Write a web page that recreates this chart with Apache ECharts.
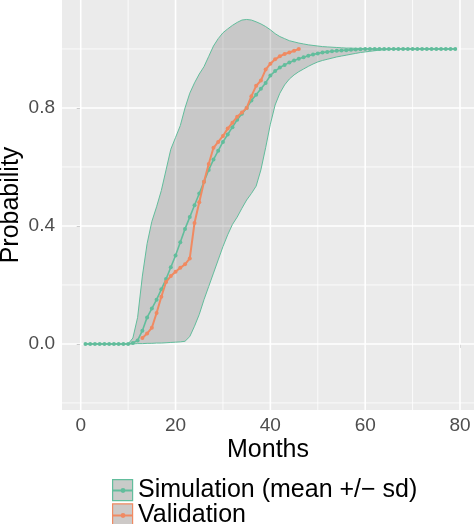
<!DOCTYPE html>
<html>
<head>
<meta charset="utf-8">
<script src="https://cdn.jsdelivr.net/npm/echarts@6/dist/echarts.min.js"></script>
<style>
  html, body { margin: 0; padding: 0; background: #fff; }
  #chart { width: 474px; height: 524px; }
</style>
</head>
<body>
<div id="chart"></div>
<script>
// months of the simulation
const months = [1, 2, 3, 4, 5, 6, 7, 8, 9, 10, 11, 12, 13, 14, 15, 16, 17, 18, 19, 20,
  21, 22, 23, 24, 25, 26, 27, 28, 29, 30, 31, 32, 33, 34, 35, 36, 37, 38, 39, 40,
  41, 42, 43, 44, 45, 46, 47, 48, 49, 50, 51, 52, 53, 54, 55, 56, 57, 58, 59, 60,
  61, 62, 63, 64, 65, 66, 67, 68, 69, 70, 71, 72, 73, 74, 75, 76, 77, 78, 79]
// simulation mean
const simMean = [0, 0, 0, 0, 0, 0, 0, 0, 0, 0, 0.003, 0.012, 0.045, 0.09, 0.12, 0.15, 0.185, 0.22, 0.26, 0.30,
  0.345, 0.39, 0.43, 0.47, 0.51, 0.55, 0.59, 0.625, 0.655, 0.685, 0.71, 0.735, 0.76, 0.78, 0.80, 0.825, 0.845, 0.865, 0.885, 0.91,
  0.925, 0.937, 0.946, 0.954, 0.961, 0.967, 0.972, 0.977, 0.981, 0.985, 0.988, 0.99, 0.992, 0.994, 0.995, 0.996, 0.997, 0.998, 0.999, 1,
  1, 1, 1, 1, 1, 1, 1, 1, 1, 1, 1, 1, 1, 1, 1, 1, 1, 1, 1]
// mean + sd
const simUpper = [0, 0, 0, 0, 0, 0, 0, 0, 0, 0, 0.02, 0.09, 0.23, 0.34, 0.415, 0.465, 0.52, 0.59, 0.66, 0.70,
  0.74, 0.80, 0.85, 0.885, 0.915, 0.94, 0.975, 1.01, 1.035, 1.055, 1.068, 1.08, 1.09, 1.098, 1.10, 1.098, 1.092, 1.085, 1.076, 1.065,
  1.052, 1.042, 1.035, 1.028, 1.024, 1.02, 1.017, 1.014, 1.012, 1.01, 1.008, 1.007, 1.006, 1.005, 1.004, 1.003, 1.003, 1.002, 1.002, 1.001,
  1.001, 1, 1, 1, 1, 1, 1, 1, 1, 1, 1, 1, 1, 1, 1, 1, 1, 1, 1]
// mean - sd
const simLower = [0, 0, 0, 0, 0, 0, 0, 0, 0, 0, 0, 0.001, 0.001, 0.002, 0.002, 0.003, 0.003, 0.004, 0.005, 0.006,
  0.007, 0.009, 0.025, 0.06, 0.10, 0.15, 0.195, 0.24, 0.285, 0.33, 0.37, 0.405, 0.43, 0.46, 0.488, 0.51, 0.535, 0.59, 0.665, 0.745,
  0.81, 0.85, 0.878, 0.898, 0.912, 0.923, 0.932, 0.941, 0.949, 0.956, 0.961, 0.965, 0.969, 0.973, 0.976, 0.979, 0.982, 0.985, 0.988, 0.99,
  0.992, 0.994, 0.996, 0.997, 0.998, 0.999, 1, 1, 1, 1, 1, 1, 1, 1, 1, 1, 1, 1, 1]
// validation data
const valMonths = [13, 14, 15, 16, 17, 18, 19, 20, 21, 22, 23, 24, 25, 26, 27, 28, 29, 30,
  31, 32, 33, 34, 35, 36, 37, 38, 39, 40, 41, 42, 43, 44, 45, 46]
const valProb = [0.02, 0.035, 0.055, 0.105, 0.16, 0.21, 0.23, 0.245, 0.258, 0.27, 0.29, 0.41, 0.48, 0.55, 0.61, 0.665, 0.685, 0.705,
  0.73, 0.75, 0.77, 0.785, 0.80, 0.84, 0.875, 0.893, 0.93, 0.95, 0.965, 0.975, 0.983, 0.988, 0.994, 1.0]
// ticks and grid lines
const xTicks = [0, 20, 40, 60, 80]
const xMinor = [10, 30, 50, 70]
const yTicks = [0, 0.4, 0.8]
const yMinor = [-0.2, 0.2, 0.6, 1.0]

const simName = 'Simulation (mean +/\u2212 sd)'
const valName = 'Validation'
const green = '#62bd9c'
const orange = '#f08a62'
const font = 'Liberation Sans, Arial, sans-serif'

const chart = echarts.init(document.getElementById('chart'))

// grid lines: [value, 0 = vertical / 1 = horizontal, 1 = major]
const gridLines = [
  ...xMinor.map(v => [v, 0, 0]),
  ...yMinor.map(v => [v, 1, 0]),
  ...xTicks.map(v => [v, 0, 1]),
  ...yTicks.map(v => [v, 1, 1])
]

const option = {
  animation: false,
  grid: {
    left: 62, right: 0, top: 0, bottom: 114,
    show: true, backgroundColor: '#ebebeb', borderWidth: 0,
    containLabel: false, outerBoundsMode: 'none'
  },
  xAxis: {
    type: 'value', min: -3.95, max: 82.95,
    axisLine: { show: false },
    axisTick: { show: true, customValues: xTicks, length: 4, lineStyle: { color: '#333', width: 1 } },
    axisLabel: { customValues: xTicks, fontSize: 19, color: '#4d4d4d', margin: 6, fontFamily: font },
    splitLine: { show: false },
    name: 'Months', nameLocation: 'middle', nameGap: 28, nameMoveOverlap: false,
    nameTextStyle: { fontSize: 25, color: '#000', fontFamily: font }
  },
  yAxis: {
    type: 'value', min: -0.224, max: 1.166,
    axisLine: { show: false },
    axisTick: { show: true, customValues: yTicks, length: 4, lineStyle: { color: '#333', width: 1 } },
    axisLabel: { customValues: yTicks, fontSize: 19, color: '#4d4d4d', margin: 7, fontFamily: font,
      formatter: v => v.toFixed(1) },
    splitLine: { show: false },
    name: 'Probability', nameLocation: 'middle', nameGap: 38, nameRotate: 90, nameMoveOverlap: false,
    nameTextStyle: { fontSize: 25, color: '#000', fontFamily: font }
  },
  legend: [
    {
      // key boxes
      orient: 'vertical', left: 112, top: 479, height: 60, padding: 0,
      itemWidth: 20, itemHeight: 21, itemGap: 2, icon: 'rect', z: 4,
      formatter: () => '',
      selectedMode: false,
      data: [
        { name: simName, itemStyle: { color: '#c9cbc9', borderColor: green, borderWidth: 1.2 } },
        { name: valName, itemStyle: { color: '#cdc9c7', borderColor: orange, borderWidth: 1.2 } }
      ]
    },
    {
      // line + point with labels
      orient: 'vertical', left: 112, top: 478, height: 60, padding: 0,
      itemWidth: 20, itemHeight: 6, itemGap: 0, z: 5,
      selectedMode: false,
      textStyle: { fontSize: 25, color: '#000', fontFamily: font, lineHeight: 23 },
      data: [simName, valName]
    }
  ],
  series: [
    {
      type: 'custom', z: 1, silent: true,
      data: gridLines,
      renderItem: (params, api) => {
        const cs = params.coordSys
        const v = api.value(0)
        const w = api.value(2) === 1 ? 1.6 : 0.8
        if (api.value(1) === 0) {
          const x = api.coord([v, 0])[0]
          return { type: 'line', shape: { x1: x, y1: cs.y, x2: x, y2: cs.y + cs.height }, style: { stroke: '#fff', lineWidth: w } }
        }
        const y = api.coord([0, v])[1]
        return { type: 'line', shape: { x1: cs.x, y1: y, x2: cs.x + cs.width, y2: y }, style: { stroke: '#fff', lineWidth: w } }
      }
    },
    {
      // mean +/- sd ribbon
      type: 'custom', z: 2, silent: true,
      data: [[months[0], 0, 0]],
      renderItem: (params, api) => {
        const pts = months.map((m, i) => api.coord([m, simUpper[i]]))
        for (let i = months.length - 1; i >= 0; i--) {
          pts.push(api.coord([months[i], simLower[i]]))
        }
        return { type: 'polygon', shape: { points: pts }, style: { fill: 'rgba(0,0,0,0.15)', stroke: green, lineWidth: 1 } }
      }
    },
    {
      name: simName, type: 'line', z: 3, silent: true,
      data: months.map((m, i) => [m, simMean[i]]),
      symbol: 'circle', symbolSize: 4, showSymbol: true,
      lineStyle: { width: 1.6, color: green },
      itemStyle: { color: green }
    },
    {
      name: valName, type: 'line', z: 4, silent: true,
      data: valMonths.map((m, i) => [m, valProb[i]]),
      symbol: 'circle', symbolSize: 4, showSymbol: true,
      lineStyle: { width: 2, color: orange },
      itemStyle: { color: orange }
    }
  ]
}

chart.setOption(option)
</script>
</body>
</html>
